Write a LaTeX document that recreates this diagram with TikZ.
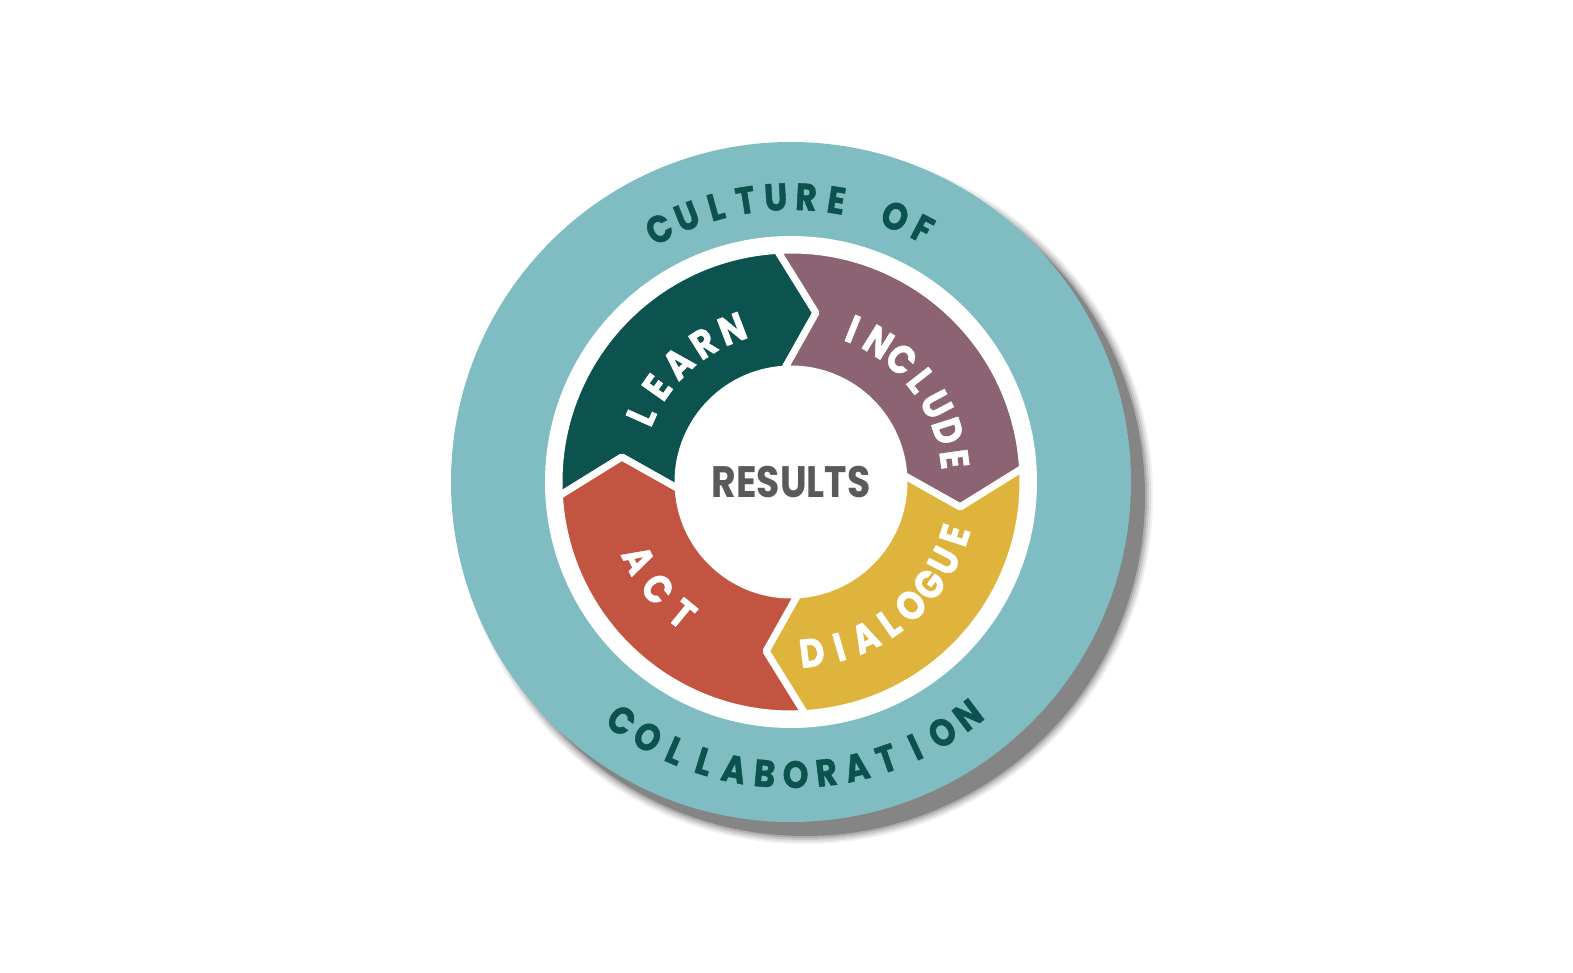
\documentclass[tikz,border=0pt]{standalone}
\usepackage{fontspec}
\setmainfont{Poppins}
\newfontfamily\geo{Poppins}[FakeStretch=0.86]
\newfontfamily\geob{Poppins}[FakeStretch=0.86, FakeBold=1.2]
\definecolor{ring}{HTML}{7FBDC2}
\definecolor{dkgreen}{HTML}{0C5350}
\definecolor{mauve}{HTML}{8B6373}
\definecolor{gold}{HTML}{DFB43D}
\definecolor{brick}{HTML}{C25441}
\definecolor{resgray}{HTML}{5A5A5A}
\definecolor{shadowgray}{HTML}{858585}
\newcommand\outerfnt{\geob\bfseries\fontsize{38}{38}\selectfont}
\newcommand\labfnt{\geob\bfseries\fontsize{40}{40}\selectfont}
\newcommand\resfnt{\geo\bfseries\fontsize{44}{44}\selectfont}
\newlength\chw
% #1 font, #2 colour, #3 baseline radius, #4 start angle, #5 end angle,
% #6 direction (1 = counterclockwise, -1 = clockwise), #7 name prefix, #8 characters
\newcommand\arctext[8]{%
  \gdef\arcW{0}\gdef\arcN{0}%
  \foreach \ch in {#8}{%
    \settowidth{\chw}{#1\ch}%
    \pgfmathsetmacro\tmp{\arcW+\chw}\xdef\arcW{\tmp}%
    \pgfmathsetmacro\tmp{\arcN+1}\xdef\arcN{\tmp}%
  }%
  \pgfmathsetmacro\arcL{#3*pi/180*abs(#5-#4)}%
  \pgfmathsetmacro\arcG{(\arcL-\arcW)/(\arcN-1)}%
  \xdef\arcG{\arcG}%
  \gdef\arcS{0}%
  \foreach \ch [count=\i] in {#8}{%
    \settowidth{\chw}{#1\ch}%
    \pgfmathsetmacro\ang{#4+(#6)*((\arcS+0.5*\chw)/#3)*(180/pi)}%
    \pgfmathsetmacro\rot{\ang+(#6)*90}%
    \node[font=#1, text=#2, inner sep=0pt, anchor=base, rotate=\rot] (#7-\i) at (\ang:#3pt) {\ch};
    \pgfmathsetmacro\tmp{\arcS+\chw+\arcG}\xdef\arcS{\tmp}%
  }%
}
\begin{document}
\begin{tikzpicture}[x=1pt,y=1pt,
  segment/.style={fill=#1, draw=white, line width=7pt, line join=round}
]
\useasboundingbox (-791pt,-490pt) rectangle (782pt,482pt);
% shadow
\foreach \r/\o in {348/0.12, 346/0.18, 344/0.25, 342/0.4, 340/1} {
  \fill[shadowgray, opacity=\o] (14pt,-14pt) circle[radius=\r pt];
}
% outer ring
\fill[ring] (0,0) circle[radius=340pt];
\fill[white] (0,0) circle[radius=246pt];
% segments
\foreach \a/\col in {183.4/dkgreen, 93.4/mauve, 3.4/gold, -86.6/brick} {
  \pgfmathsetmacro\b{\a-90}
  \pgfmathsetmacro\t{\b-11.8}
  \pgfmathsetmacro\n{\a-11.8}
  \filldraw[segment=\col] (\a:232pt) arc[start angle=\a, end angle=\b, radius=232pt]
    -- (\t:171pt) -- (\b:113pt) arc[start angle=\b, end angle=\a, radius=113pt]
    -- (\n:171pt) -- cycle;
}
% centre
\node[text=resgray, font=\resfnt, inner sep=0pt] (results) at (0,0) {RESULTS};
% segment labels
\arctext{\labfnt}{white}{150}{156}{111}{-1}{learn}{L,E,A,R,N}
\arctext{\labfnt}{white}{151}{68}{8}{-1}{include}{I,N,C,L,U,D,E}
\arctext{\labfnt}{white}{186}{277}{342}{1}{dialogue}{D,I,A,L,O,G,U,E}
\arctext{\labfnt}{white}{185}{207}{230.5}{1}{act}{A,C,T}
% outer texts
\arctext{\outerfnt}{dkgreen}{272}{117.5}{62.5}{-1}{culture}{C,U,L,T,U,R,E,\ ,O,F}
\arctext{\outerfnt}{dkgreen}{306}{234.6}{307.2}{1}{collab}{C,O,L,L,A,B,O,R,A,T,I,O,N}
\end{tikzpicture}
\end{document}
